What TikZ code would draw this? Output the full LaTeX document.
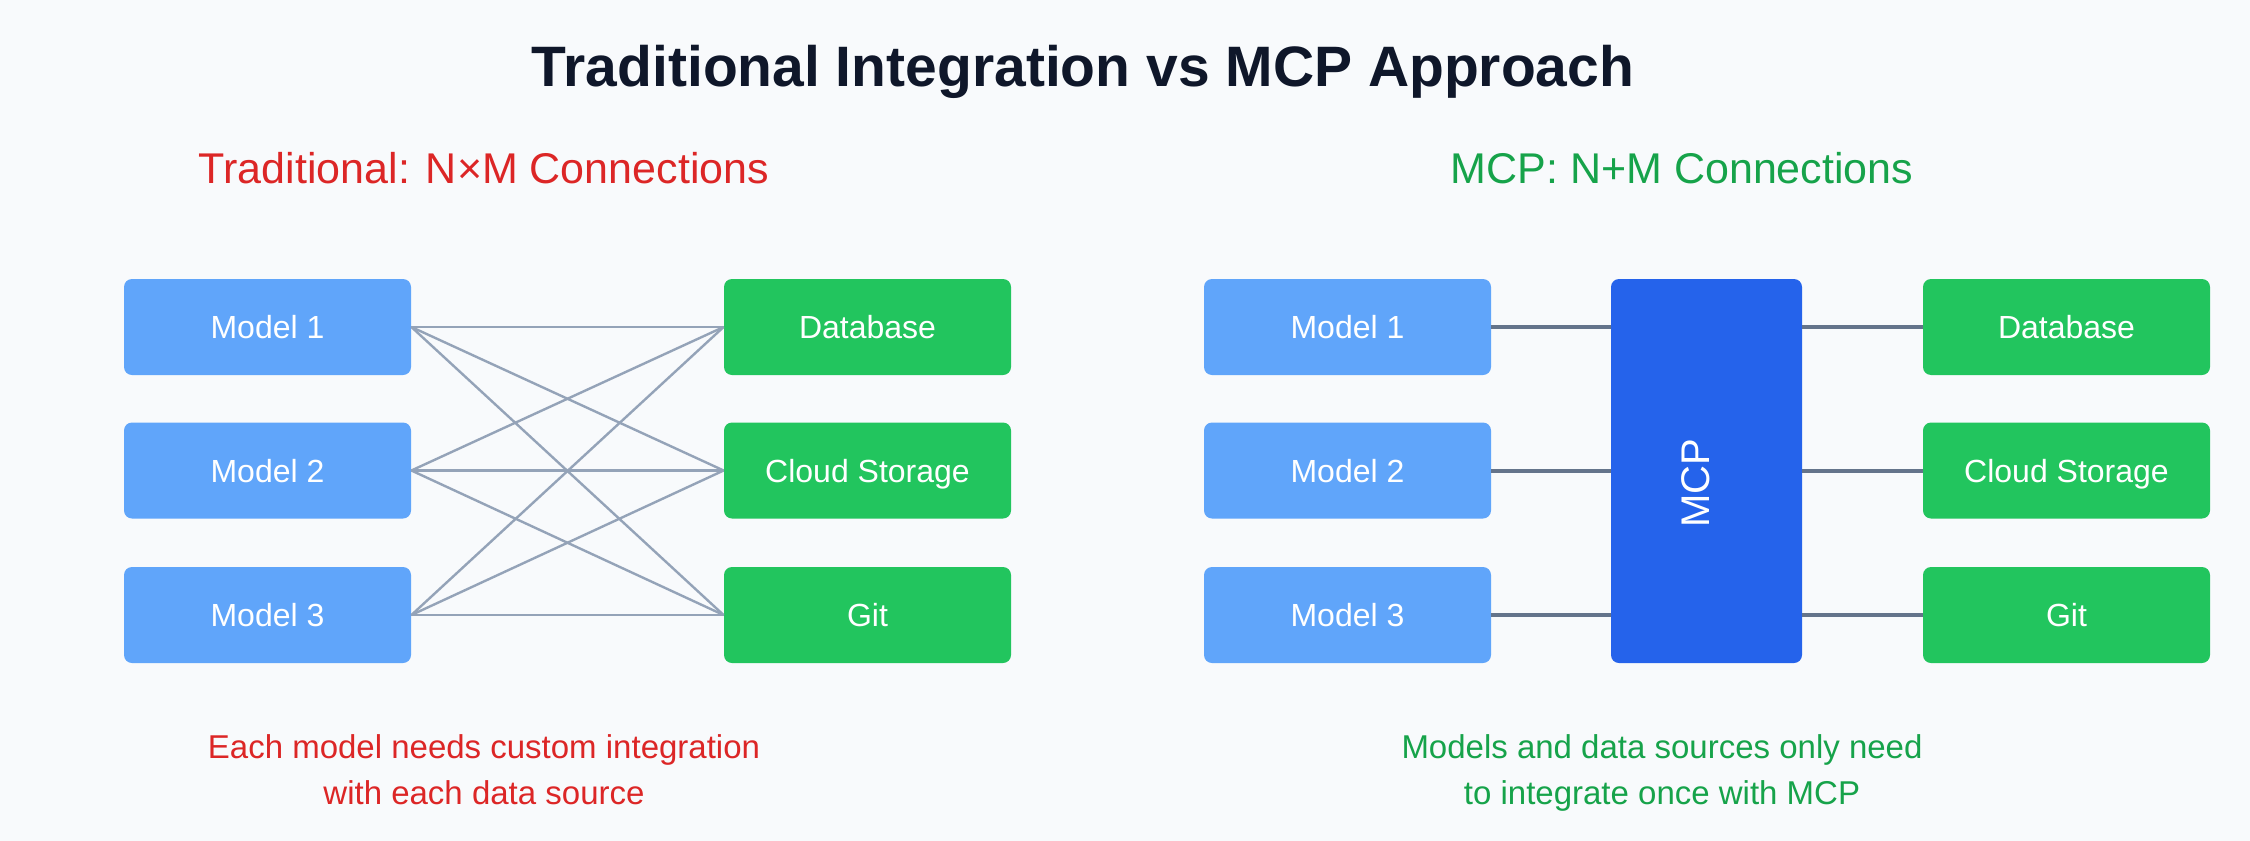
\documentclass[tikz,border=0pt]{standalone}
\usepackage{fontspec}
\setmainfont{Liberation Sans}
\definecolor{bg}{HTML}{F8FAFC}
\definecolor{titlec}{HTML}{0F172A}
\definecolor{modelc}{HTML}{60A5FA}
\definecolor{datac}{HTML}{22C55E}
\definecolor{mcpc}{HTML}{2563EB}
\definecolor{redc}{HTML}{DC2626}
\definecolor{greenc}{HTML}{16A34A}
\definecolor{linel}{HTML}{94A3B8}
\definecolor{liner}{HTML}{64748B}
\tikzset{
  box/.style={draw=none, rounded corners=4pt, minimum width=143.5pt, minimum height=48pt,
    text=white, font=\fontsize{16}{19}\selectfont, text height=13pt, text depth=1.5pt, inner sep=0pt},
  modelbox/.style={box, fill=modelc},
  databox/.style={box, fill=datac},
  mcpbox/.style={draw=none, rounded corners=4pt, fill=mcpc, minimum width=95.5pt, minimum height=192pt, inner sep=0pt},
  crossline/.style={draw=linel, line width=1.2pt},
  hubline/.style={draw=liner, line width=2pt},
  caption/.style={font=\fontsize{16.5}{23}\selectfont, align=center, anchor=base},
}
\begin{document}
\begin{tikzpicture}[x=0.5pt, y=-0.5pt]
\fill[bg] (0,0) rectangle (2250,841);
\useasboundingbox (0,0) rectangle (2250,841);

\node[anchor=base, text=titlec, font=\fontsize{28.5}{34}\selectfont\bfseries] (title) at (1083,86) {Traditional Integration vs MCP Approach};

\node[anchor=base, text=redc, font=\fontsize{21.5}{26}\selectfont] (subl) at (484,183) {Traditional: N×M Connections};
\node[anchor=base, text=greenc, font=\fontsize{21.5}{26}\selectfont] (subr) at (1682,183) {MCP: N+M Connections};

% left panel
\node[modelbox] (lm1) at (267.5,327) {Model 1};
\node[modelbox] (lm2) at (267.5,470.5) {Model 2};
\node[modelbox] (lm3) at (267.5,615) {Model 3};
\node[databox] (ld1) at (867.5,327) {Database};
\node[databox] (ld2) at (867.5,470.5) {Cloud Storage};
\node[databox] (ld3) at (867.5,615) {Git};
\foreach \m in {1,2,3}{
  \foreach \d in {1,2,3}{
    \draw[crossline] (lm\m.east) -- (ld\d.west);
  }
}

% right panel
\node[modelbox] (rm1) at (1347.5,327) {Model 1};
\node[modelbox] (rm2) at (1347.5,470.5) {Model 2};
\node[modelbox] (rm3) at (1347.5,615) {Model 3};
\node[mcpbox] (mcp) at (1706.5,471) {};
\node[rotate=90, text=white, font=\fontsize{20}{24}\selectfont, text height=14.3pt, text depth=0pt, inner sep=0pt] (mcplabel) at (1695,483) {MCP};
\node[databox] (rd1) at (2066.5,327) {Database};
\node[databox] (rd2) at (2066.5,470.5) {Cloud Storage};
\node[databox] (rd3) at (2066.5,615) {Git};
\foreach \i in {1,2,3}{
  \draw[hubline] (rm\i.east) -- (rm\i.east -| mcp.west);
  \draw[hubline] (rd\i.west -| mcp.east) -- (rd\i.west);
}

% captions
\node[caption, text=redc] (capl) at (484,804) {Each model needs custom integration\\with each data source};
\node[caption, text=greenc] (capr) at (1662,804) {Models and data sources only need\\to integrate once with MCP};
\end{tikzpicture}
\end{document}
